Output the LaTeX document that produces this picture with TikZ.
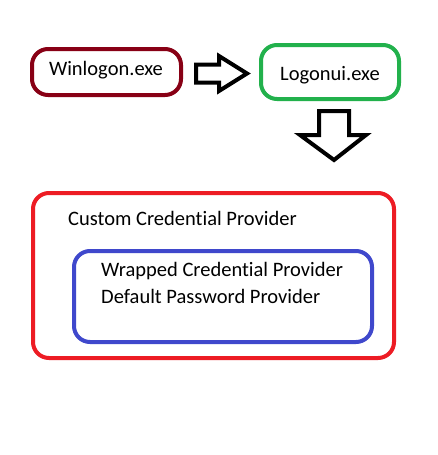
\documentclass[tikz,border=0pt]{standalone}
\usepackage{fontspec}
\setmainfont[Ligatures=NoCommon]{Carlito}
\definecolor{pdarkred}{RGB}{136,0,21}
\definecolor{pgreen}{RGB}{34,177,76}
\definecolor{pred}{RGB}{237,28,36}
\definecolor{pblue}{RGB}{63,72,204}
\begin{document}
\begin{tikzpicture}[x=1pt,y=-1pt,
  box/.style={draw, line width=4pt, rounded corners=16pt},
  lbl/.style={font=\fontsize{20.5}{25}\selectfont, inner sep=0pt},
  blockarrow/.style={draw=black, fill=white, line width=4pt, line join=miter}]
\useasboundingbox[fill=white] (0,0) rectangle (438,455);
% boxes
\draw[box, pdarkred] (32,49) rectangle (181,95);
\node[lbl] (win) at (106,70) {Winlogon.exe};
\draw[box, pgreen] (261,45) rectangle (399,99);
\node[lbl] (logon) at (330,75) {Logonui.exe};
\draw[box, pred] (33,193) rectangle (394,358);
\node[lbl, anchor=west] (custom) at (68,218) {Custom Credential Provider};
\draw[box, pblue] (74,251) rectangle (372,342);
\node[lbl, anchor=west] (wrapped) at (101,271) {Wrapped Credential Provider};
\node[lbl, anchor=west] (default) at (101,296) {Default Password Provider};
% block arrows
\draw[blockarrow] (196,64.5) -- (219,64.5) -- (219,56) -- (247,73.5) -- (219,91) -- (219,82.5) -- (196,82.5) -- cycle;
\draw[blockarrow] (319,111) -- (349,111) -- (349,135) -- (366,135) -- (334,160) -- (300,135) -- (319,135) -- cycle;
\end{tikzpicture}
\end{document}
